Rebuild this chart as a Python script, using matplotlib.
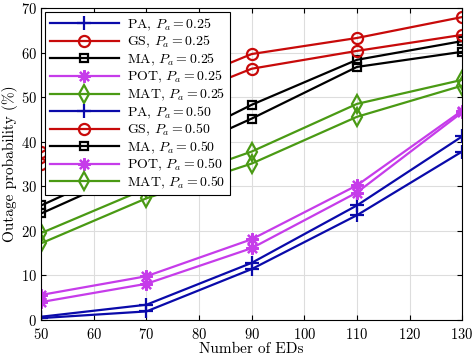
import numpy as np
import matplotlib
matplotlib.use('Agg')
import matplotlib.pyplot as plt

plt.rcParams['font.family'] = 'serif'
plt.rcParams['font.serif'] = ['cmr10', 'DejaVu Serif']
plt.rcParams['mathtext.fontset'] = 'cm'
plt.rcParams['axes.formatter.use_mathtext'] = True

'''Data (read from figure)'''
eds = [50, 70, 90, 110, 130]

pa_025 = [0.7, 3.4, 12.8, 25.7, 41.2]
gs_025 = [37.6, 50.0, 59.7, 63.3, 68.0]
ma_025 = [25.7, 36.5, 48.3, 58.4, 62.6]
pot_025 = [5.6, 9.8, 18.1, 30.2, 47.0]
mat_025 = [19.5, 29.5, 37.8, 48.5, 53.9]

pa_050 = [0.4, 1.9, 11.4, 23.5, 37.8]
gs_050 = [35.1, 47.0, 56.4, 60.4, 64.0]
ma_050 = [23.9, 34.5, 45.2, 56.8, 60.2]
pot_050 = [4.0, 8.1, 16.1, 28.6, 46.6]
mat_050 = [17.2, 27.3, 35.1, 45.6, 52.6]

c_pa = '#0A0AAA'
c_gs = '#C80A0A'
c_ma = '#000000'
c_pot = '#C63CEA'
c_mat = '#4A9A14'

ast = (8, 2, 0)  # matlab-like asterisk

fig = plt.figure(figsize=(4.74, 3.55), dpi=100)
ax = fig.add_axes([0.087, 0.099, 0.888, 0.878])

st = dict(lw=1.6, mew=1.6, mfc='none')
ax.plot(eds, pa_025, '-', marker='+', ms=10, color=c_pa, label='PA, $P_a = 0.25$', **st)
ax.plot(eds, gs_025, '-', marker='o', ms=8, color=c_gs, label='GS, $P_a = 0.25$', **st)
ax.plot(eds, ma_025, '-', marker='s', ms=6, color=c_ma, label='MA, $P_a = 0.25$', **st)
ax.plot(eds, pot_025, '-', marker=ast, ms=9, color=c_pot, label='POT, $P_a = 0.25$', **st)
ax.plot(eds, mat_025, '-', marker='d', ms=9, color=c_mat, label='MAT, $P_a = 0.25$', **st)
ax.plot(eds, pa_050, '-', marker='+', ms=10, color=c_pa, label='PA, $P_a = 0.50$', **st)
ax.plot(eds, gs_050, '-', marker='o', ms=8, color=c_gs, label='GS, $P_a = 0.50$', **st)
ax.plot(eds, ma_050, '-', marker='s', ms=6, color=c_ma, label='MA, $P_a = 0.50$', **st)
ax.plot(eds, pot_050, '-', marker=ast, ms=9, color=c_pot, label='POT, $P_a = 0.50$', **st)
ax.plot(eds, mat_050, '-', marker='d', ms=9, color=c_mat, label='MAT, $P_a = 0.50$', **st)

ax.set_xlim(50, 130)
ax.set_ylim(0, 70)
ax.set_xticks(np.arange(50, 131, 10))
ax.set_yticks(np.arange(0, 71, 10))
ax.tick_params(direction='in', top=True, right=True, labelsize=10.5)
ax.tick_params(axis='x', pad=5)
ax.tick_params(axis='y', pad=3)
ax.grid(True, color='#DDDDDD', lw=0.8)
ax.set_axisbelow(True)
for s in ax.spines.values():
    s.set_linewidth(0.8)
ax.set_xlabel('Number of EDs', fontsize=11, labelpad=0)
ax.set_ylabel('Outage probability (%)', fontsize=11, labelpad=2)

leg = ax.legend(loc='upper left', fontsize=10, handlelength=5.0, labelspacing=0.1,
                borderaxespad=0.3, fancybox=False, framealpha=1, edgecolor='black',
                borderpad=0.3, handletextpad=0.6)
leg.get_frame().set_linewidth(0.8)

plt.savefig('out.png', dpi=100)
